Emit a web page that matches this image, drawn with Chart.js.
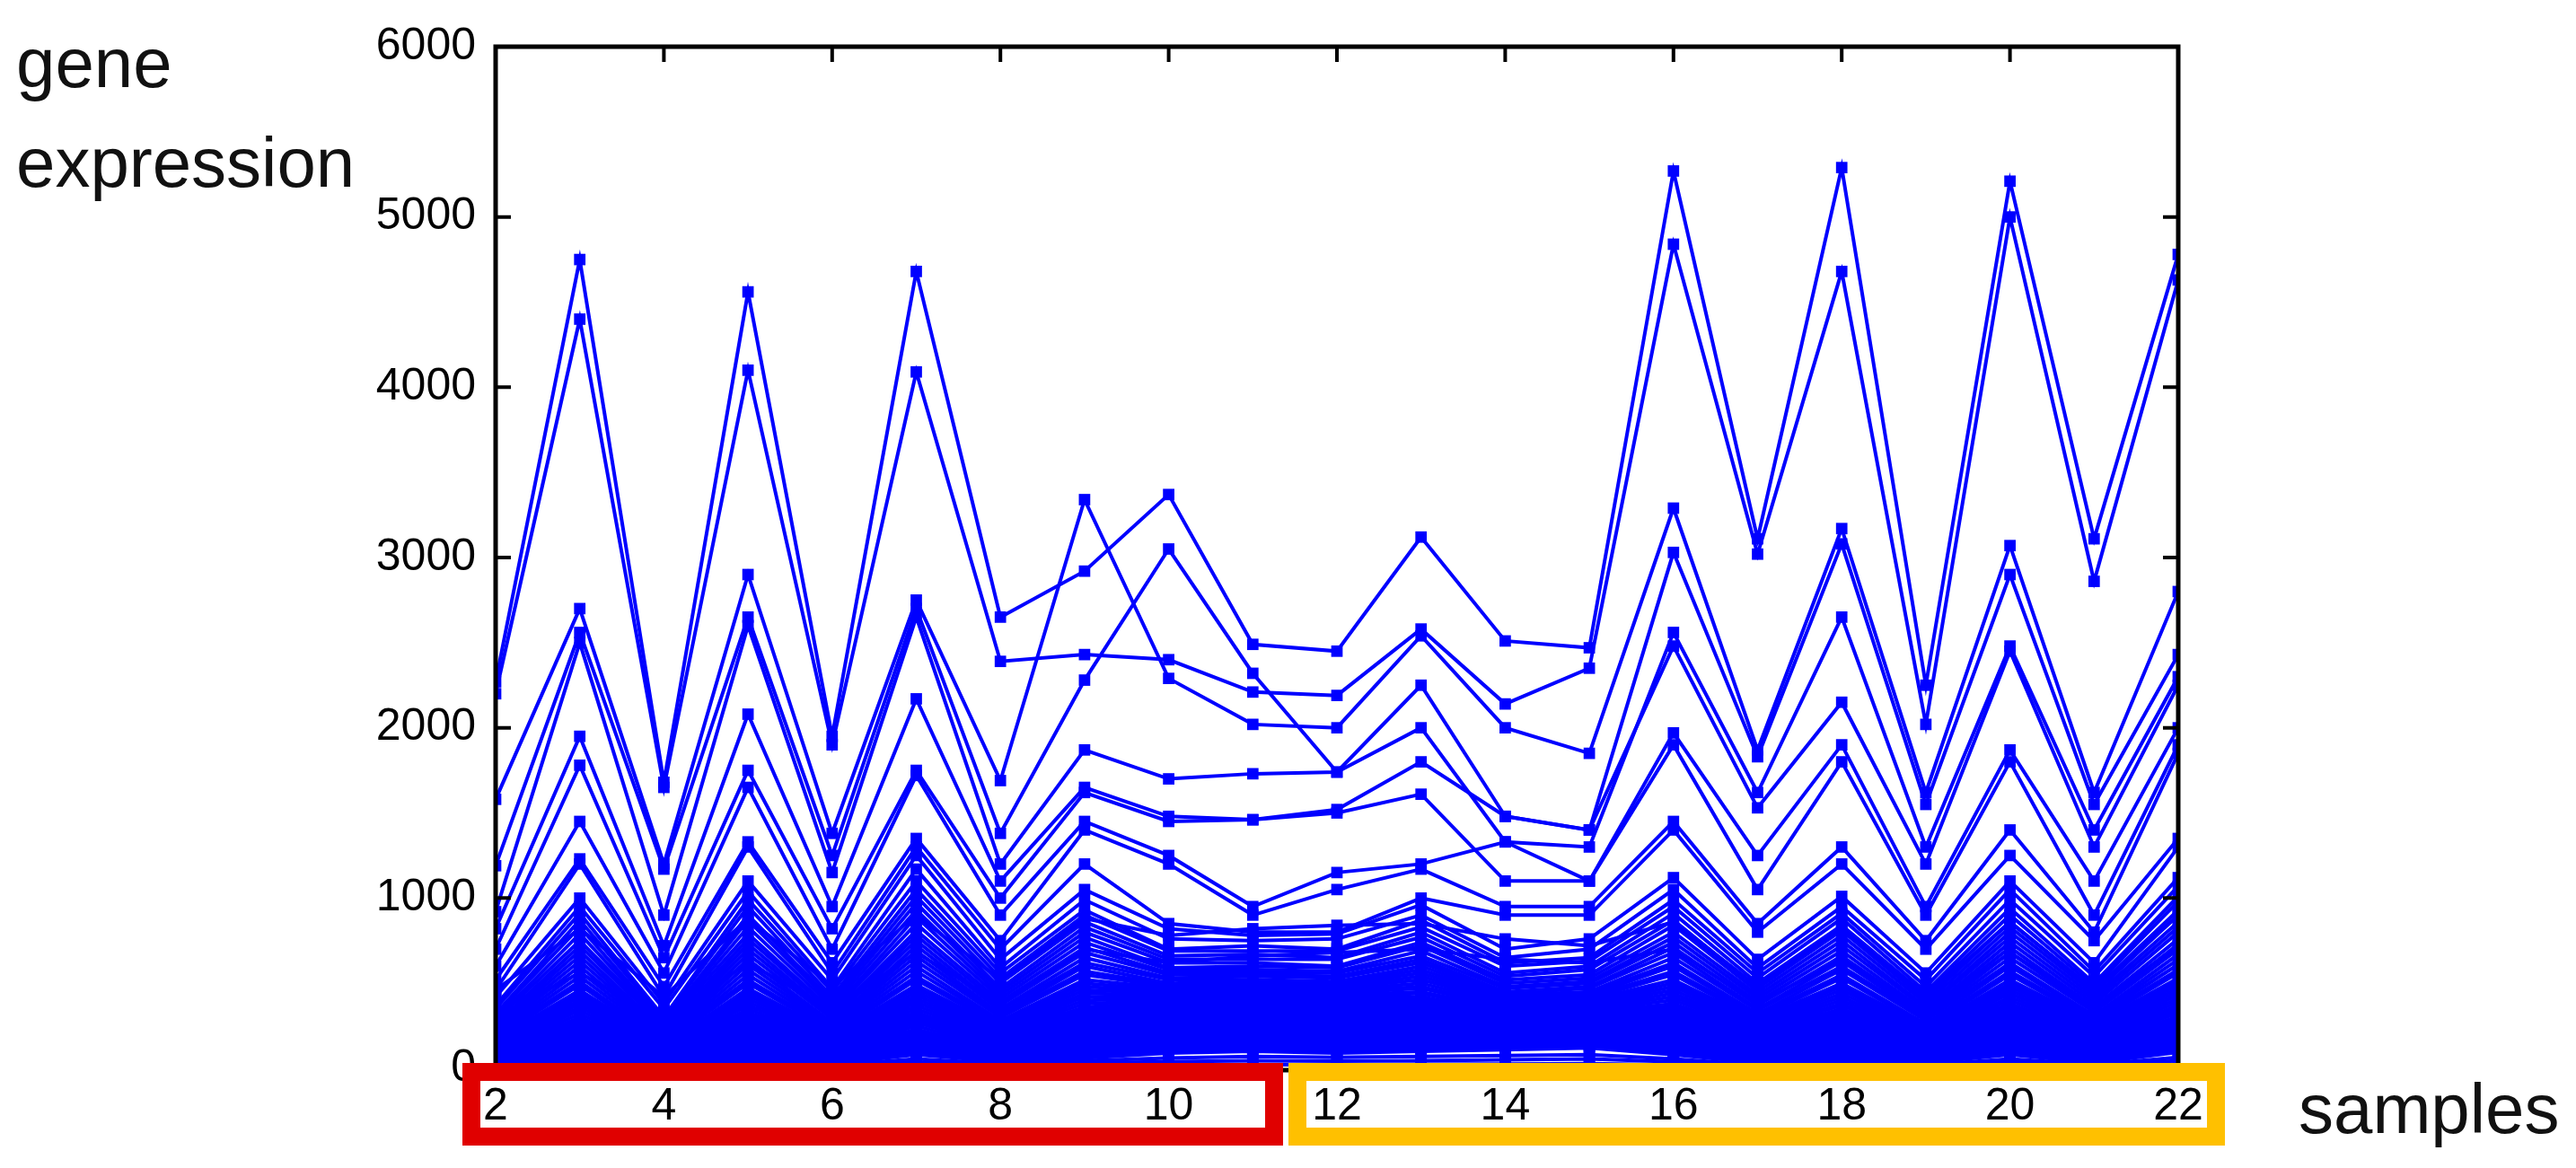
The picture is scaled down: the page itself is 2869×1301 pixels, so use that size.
<!DOCTYPE html>
<html>
<head>
<meta charset="utf-8">
<script src="https://cdn.jsdelivr.net/npm/chart.js@4.4.1/dist/chart.umd.min.js"></script>
<style>
  html, body { margin: 0; padding: 0; background: #fff; }
  canvas { display: block; }
</style>
</head>
<body>
<canvas id="myChart" width="2869" height="1301"></canvas>
<script>
// samples on the x axis
const samples = [2,3,4,5,6,7,8,9,10,11,12,13,14,15,16,17,18,19,20,21,22];
const xTicks = [2,4,6,8,10,12,14,16,18,20,22];
const yTicks = [0,1000,2000,3000,4000,5000,6000];

// high expressed genes
const g01 = [2270,4750,1680,4560,1950,4680,2650,2920,3370,2490,2450,3120,2510,2470,5270,3110,5290,2250,5210,3110,4780];
const g02 = [2200,4400,1650,4100,1900,4090,2390,2430,2400,2210,2190,2580,2140,2350,4840,3020,4680,2020,5000,2860,4630];
const g03 = [1580,2700,1200,2900,1380,2750,1690,3340,2290,2020,2000,2540,2000,1850,3290,1870,3170,1620,3070,1620,2800];
const g04 = [1190,2560,1170,2650,1250,2700,1380,2280,3050,2320,1740,2250,1480,1400,3030,1830,3080,1550,2900,1550,2430];
const g05 = [920,2500,900,2600,1150,2650,1200,1870,1700,1730,1740,2000,1330,1300,2560,1620,2650,1300,2480,1400,2300];
const g06 = [820,1950,720,2080,950,2170,1100,1650,1480,1460,1520,1800,1480,1400,2480,1530,2150,1200,2450,1300,2250];
const g07 = [700,1780,650,1750,820,1750,1000,1620,1450,1460,1500,1610,1100,1100,1970,1250,1900,950,1870,1100,2000];
const g08 = [600,1450,560,1650,700,1720,900,1450,1250,950,1150,1200,1330,1100,1900,1050,1800,900,1800,900,1900];
const g09 = [520,1230,480,1330,620,1350,750,1400,1200,900,1050,1170,950,950,1450,850,1300,750,1400,800,1850];
const g10 = [460,1200,420,1300,560,1300,700,1200,850,800,800,1000,900,900,1400,800,1200,700,1250,750,1350];

// low expressed genes
const l01 = [420,1000,380,1100,520,1250,640,1050,820,780,790,960,700,760,1120,640,1010,560,1100,620,1300];
const l02 = [370,950,350,1040,470,1170,590,990,760,750,760,900,650,700,1050,590,950,520,1050,570,1120];
const l03 = [350,910,300,990,450,1100,560,930,700,720,700,870,620,650,990,560,910,480,990,540,1070];
const l04 = [320,870,290,950,420,1050,530,900,690,690,690,830,600,630,950,530,880,450,940,500,1010];
const l05 = [310,830,270,900,400,1010,500,860,660,670,650,800,560,600,910,500,840,430,900,480,980];
const l06 = [290,790,260,870,380,970,470,830,640,640,640,770,540,580,870,470,810,400,860,460,930];
const l07 = [280,750,250,830,360,930,450,800,620,620,600,740,520,550,840,450,780,380,830,440,900];
const l08 = [260,720,240,790,340,890,430,770,590,600,590,720,500,530,800,430,750,360,800,420,860];
const l09 = [250,690,220,760,330,850,410,740,580,580,570,690,480,510,770,410,720,350,770,400,830];
const l10 = [240,660,210,730,310,810,390,710,560,560,560,660,470,500,740,390,690,330,740,380,800];
const l11 = [230,630,200,700,300,780,370,680,550,550,540,640,450,480,710,370,660,320,710,360,760];
const l12 = [220,600,190,670,290,750,350,650,530,540,530,620,440,470,680,350,630,300,680,340,730];
const l13 = [210,570,180,640,270,720,340,620,520,520,510,600,430,450,650,340,600,290,650,330,700];
const l14 = [200,540,170,610,260,690,320,600,500,510,500,580,420,440,620,320,580,280,620,310,670];
const l15 = [190,510,160,580,250,660,310,570,490,500,490,560,410,430,600,310,550,260,600,300,640];
const l16 = [180,490,150,550,240,630,300,550,480,490,480,540,400,420,570,300,530,250,570,290,610];
const l17 = [170,460,150,520,230,600,280,520,470,480,470,520,390,410,550,290,500,240,550,280,580];
const l18 = [160,440,140,500,220,570,270,500,460,470,460,500,380,400,520,280,480,230,520,270,560];
const l19 = [150,420,130,470,210,540,260,480,450,460,450,480,370,390,500,270,460,220,500,260,530];
const l20 = [140,400,120,450,200,520,250,460,440,450,440,470,360,380,480,260,440,210,480,250,510];
const l21 = [130,380,120,430,190,490,240,440,430,440,430,450,350,370,460,250,420,200,460,240,490];
const l22 = [120,360,110,410,180,470,230,420,420,430,420,440,340,360,440,240,400,190,440,230,470];
const l23 = [115,340,100,390,170,450,220,400,410,420,410,420,330,350,420,230,380,180,420,220,450];
const l24 = [110,320,100,370,160,430,210,380,400,410,400,410,320,340,400,220,370,170,400,210,430];
const l25 = [100,300,90,350,150,410,200,360,390,400,390,400,310,330,380,210,350,160,380,200,410];
const l26 = [95,285,85,330,145,390,190,345,375,385,375,385,300,320,365,200,335,155,365,190,390];
const l27 = [90,270,80,315,140,370,180,330,360,370,360,370,290,310,350,190,320,150,350,180,370];
const l28 = [85,255,75,300,130,350,170,315,345,355,345,355,280,295,335,180,305,140,335,170,355];
const l29 = [80,240,70,285,125,330,160,300,330,340,330,340,270,285,320,170,290,135,320,165,340];
const l30 = [75,225,68,270,120,315,150,285,315,325,315,325,260,275,305,160,275,130,305,155,325];
const l31 = [70,210,65,255,110,300,140,270,300,310,300,310,250,265,290,150,260,120,290,145,305];
const l32 = [65,195,60,240,105,285,130,255,285,295,285,295,240,255,275,140,245,115,275,135,290];
const l33 = [60,180,55,225,100,270,120,240,270,280,270,280,230,245,260,130,230,110,260,125,275];
const l34 = [55,165,50,210,95,250,110,225,255,265,255,265,220,235,245,120,215,100,245,115,260];
const l35 = [50,150,45,195,90,230,100,210,240,250,240,250,210,220,230,110,200,95,230,105,245];
const l36 = [46,138,42,180,85,215,95,195,225,235,225,235,200,210,215,100,185,90,215,98,230];
const l37 = [42,126,38,165,80,200,90,180,210,220,210,220,190,200,200,92,170,85,200,92,215];
const l38 = [38,114,34,150,72,185,84,165,195,205,195,205,180,190,185,85,155,78,185,85,200];
const l39 = [34,102,30,135,65,170,78,150,180,190,180,190,170,180,170,78,140,72,170,78,185];
const l40 = [30,90,26,120,58,155,72,135,165,175,165,175,160,170,155,70,125,65,155,70,170];
const l41 = [26,78,22,105,50,140,66,120,150,160,150,160,150,160,140,62,110,58,140,62,155];
const l42 = [22,66,18,90,44,125,60,105,135,145,135,145,140,150,125,55,95,52,125,55,140];
const l43 = [18,54,14,75,38,110,52,90,120,130,120,130,130,140,110,48,80,45,110,48,125];
const l44 = [14,42,10,60,32,95,46,75,105,115,105,115,120,130,95,40,65,38,95,40,110];
const l45 = [10,30,8,45,26,80,40,60,90,100,90,100,110,120,80,32,50,32,80,32,95];
const l46 = [8,22,6,30,18,55,28,45,60,70,65,70,75,80,55,20,35,20,55,22,65];
const l47 = [5,15,4,20,12,35,18,30,40,45,42,45,50,55,38,12,22,12,35,14,45];
const l48 = [3,8,2,10,6,18,10,15,20,22,20,24,25,28,20,6,10,6,18,8,22];
const l49 = [460,820,420,880,480,900,520,880,780,820,840,850,760,720,860,480,820,420,860,460,900];
const l50 = [300,560,280,620,340,680,380,700,620,660,680,700,640,620,700,380,640,320,680,360,720];

const genes = [g01,g02,g03,g04,g05,g06,g07,g08,g09,g10,
  l01,l02,l03,l04,l05,l06,l07,l08,l09,l10,l11,l12,l13,l14,l15,
  l16,l17,l18,l19,l20,l21,l22,l23,l24,l25,l26,l27,l28,l29,l30,
  l31,l32,l33,l34,l35,l36,l37,l38,l39,l40,l41,l42,l43,l44,l45,
  l46,l47,l48,l49,l50];

const BLUE = "#0000ff";
const tickFont = { family: "'Liberation Sans', Arial, sans-serif", size: 50 };

// frame, inner tick marks, sample boxes and axis words
const decorations = {
  id: "decorations",
  afterDraw(chart) {
    const { ctx, chartArea: a, scales: { x, y } } = chart;
    ctx.save();
    ctx.strokeStyle = "#000";
    ctx.lineWidth = 5;
    ctx.strokeRect(a.left, a.top, a.right - a.left, a.bottom - a.top + 2);

    ctx.lineWidth = 4;
    ctx.beginPath();
    yTicks.slice(1, -1).forEach(v => {
      const py = y.getPixelForValue(v);
      ctx.moveTo(a.left, py); ctx.lineTo(a.left + 17, py);
      ctx.moveTo(a.right, py); ctx.lineTo(a.right - 17, py);
    });
    xTicks.slice(1, -1).forEach(v => {
      const px = x.getPixelForValue(v);
      ctx.moveTo(px, a.top); ctx.lineTo(px, a.top + 17);
    });
    ctx.stroke();

    // red box round samples 2-10, orange box round 12-22
    ctx.lineWidth = 20;
    ctx.strokeStyle = "#e00000";
    ctx.strokeRect(525, 1194, 894, 72);
    ctx.strokeStyle = "#ffc000";
    ctx.strokeRect(1445, 1194, 1023, 72);

    ctx.fillStyle = "#111";
    ctx.font = "78px 'Liberation Sans', Arial, sans-serif";
    ctx.textAlign = "left";
    ctx.textBaseline = "alphabetic";
    ctx.fillText("gene", 18, 97);
    ctx.fillText("expression", 18, 208);
    ctx.fillText("samples", 2560, 1262);
    ctx.restore();
  }
};

const config = {
  type: "line",
  data: {
    datasets: genes.map(g => ({
      data: samples.map((s, i) => ({ x: s, y: g[i] })),
      borderColor: BLUE,
      backgroundColor: BLUE,
      borderWidth: 4,
      pointStyle: "rect",
      pointRadius: 9,
      pointBorderWidth: 0,
      tension: 0
    }))
  },
  options: {
    responsive: false,
    animation: false,
    devicePixelRatio: 1,
    layout: { padding: { top: 41, right: 443, left: 0, bottom: 0 } },
    plugins: { legend: { display: false }, tooltip: { enabled: false } },
    scales: {
      x: {
        type: "linear",
        min: 2,
        max: 22,
        afterBuildTicks: s => { s.ticks = xTicks.map(v => ({ value: v })); },
        afterFit: s => { s.height = 111; },
        grid: { display: false, drawTicks: false },
        border: { display: false },
        ticks: { font: tickFont, color: "#000", padding: 13, maxRotation: 0, autoSkip: false,
                 callback: v => String(v) }
      },
      y: {
        min: 0,
        max: 6000,
        afterBuildTicks: s => { s.ticks = yTicks.map(v => ({ value: v })); },
        afterFit: s => { s.width = 552; },
        grid: { display: false, drawTicks: false },
        border: { display: false },
        ticks: { font: tickFont, color: "#000", padding: 22, callback: v => String(v) }
      }
    }
  },
  plugins: [decorations]
};

const ctx = document.getElementById("myChart").getContext("2d");
new Chart(ctx, config);
</script>
</body>
</html>
